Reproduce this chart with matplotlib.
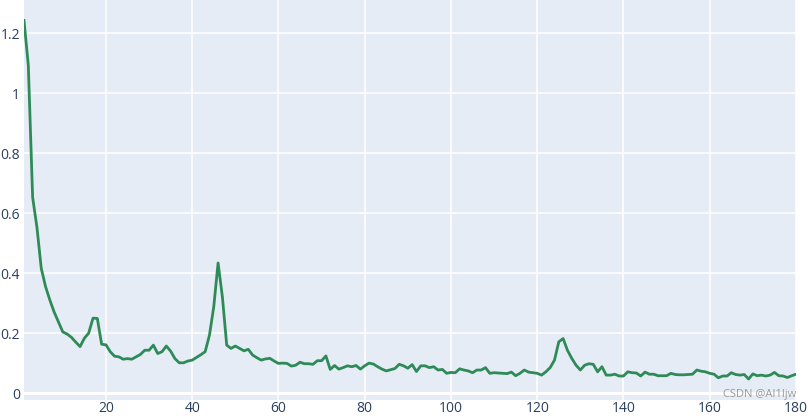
import matplotlib
matplotlib.use("Agg")
import matplotlib.pyplot as plt
import numpy as np

# values, one per step (step 1 .. 180)
steps = list(range(1, 181))
loss = [
    1.243, 1.093, 0.653, 0.553, 0.416, 0.355, 0.310, 0.270, 0.237, 0.204,
    0.197, 0.186, 0.170, 0.155, 0.183, 0.200, 0.250, 0.249, 0.163, 0.161,
    0.138, 0.123, 0.121, 0.113, 0.115, 0.113, 0.121, 0.129, 0.143, 0.143,
    0.160, 0.132, 0.138, 0.157, 0.140, 0.115, 0.101, 0.101, 0.107, 0.110,
    0.119, 0.128, 0.138, 0.193, 0.288, 0.434, 0.321, 0.160, 0.149, 0.157,
    0.149, 0.141, 0.146, 0.127, 0.118, 0.110, 0.114, 0.116, 0.107, 0.099,
    0.100, 0.099, 0.090, 0.093, 0.103, 0.098, 0.098, 0.096, 0.108, 0.108,
    0.124, 0.079, 0.092, 0.080, 0.085, 0.091, 0.088, 0.092, 0.080, 0.091,
    0.100, 0.097, 0.088, 0.080, 0.074, 0.078, 0.082, 0.096, 0.091, 0.083,
    0.095, 0.072, 0.091, 0.091, 0.085, 0.088, 0.077, 0.079, 0.066, 0.069,
    0.068, 0.081, 0.077, 0.074, 0.068, 0.077, 0.077, 0.085, 0.066, 0.068,
    0.067, 0.066, 0.065, 0.070, 0.058, 0.066, 0.077, 0.070, 0.068, 0.066,
    0.060, 0.071, 0.085, 0.110, 0.171, 0.182, 0.143, 0.116, 0.093, 0.077,
    0.093, 0.098, 0.096, 0.071, 0.088, 0.060, 0.060, 0.063, 0.057, 0.057,
    0.071, 0.068, 0.067, 0.057, 0.070, 0.063, 0.063, 0.058, 0.058, 0.058,
    0.066, 0.062, 0.061, 0.061, 0.062, 0.063, 0.077, 0.073, 0.071, 0.066,
    0.063, 0.051, 0.057, 0.057, 0.068, 0.062, 0.060, 0.062, 0.047, 0.064,
    0.058, 0.060, 0.057, 0.060, 0.069, 0.058, 0.057, 0.052, 0.058, 0.063,
]
x_ticks = [20, 40, 60, 80, 100, 120, 140, 160, 180]
y_ticks = [0, 0.2, 0.4, 0.6, 0.8, 1.0, 1.2]
y_tick_labels = ["0", "0.2", "0.4", "0.6", "0.8", "1", "1.2"]

plt.rcParams['font.family'] = ['Open Sans', 'DejaVu Sans']

fig = plt.figure(figsize=(8.09, 4.16), dpi=100)
ax = fig.add_axes([24 / 809, 16 / 416, 772 / 809, 400 / 416])
ax.set_facecolor('#E5ECF6')

ax.plot(steps, loss, color='#2E8B57', linewidth=2, zorder=3)

ax.set_xlim(1, 180)
ax.set_ylim(-0.023, 1.311)
ax.set_xticks(x_ticks)
ax.set_yticks(y_ticks)
ax.set_yticklabels(y_tick_labels)

ax.grid(True, color='white', linewidth=1.1, zorder=1)
ax.set_axisbelow(True)
ax.axhline(0, color='white', linewidth=2.2, zorder=2)

for s in ax.spines.values():
    s.set_visible(False)
ax.tick_params(axis='both', length=0, labelsize=10, labelcolor='#2a3f5f')
ax.tick_params(axis='y', pad=3)
ax.tick_params(axis='x', pad=1)

# watermark sits just above the 180 tick label
fig.text(0.984, 0.052, 'CSDN @AI1ljw', ha='right', va='center',
         fontsize=8, color='#9a9a9a')

fig.savefig('out.png', dpi=100)
